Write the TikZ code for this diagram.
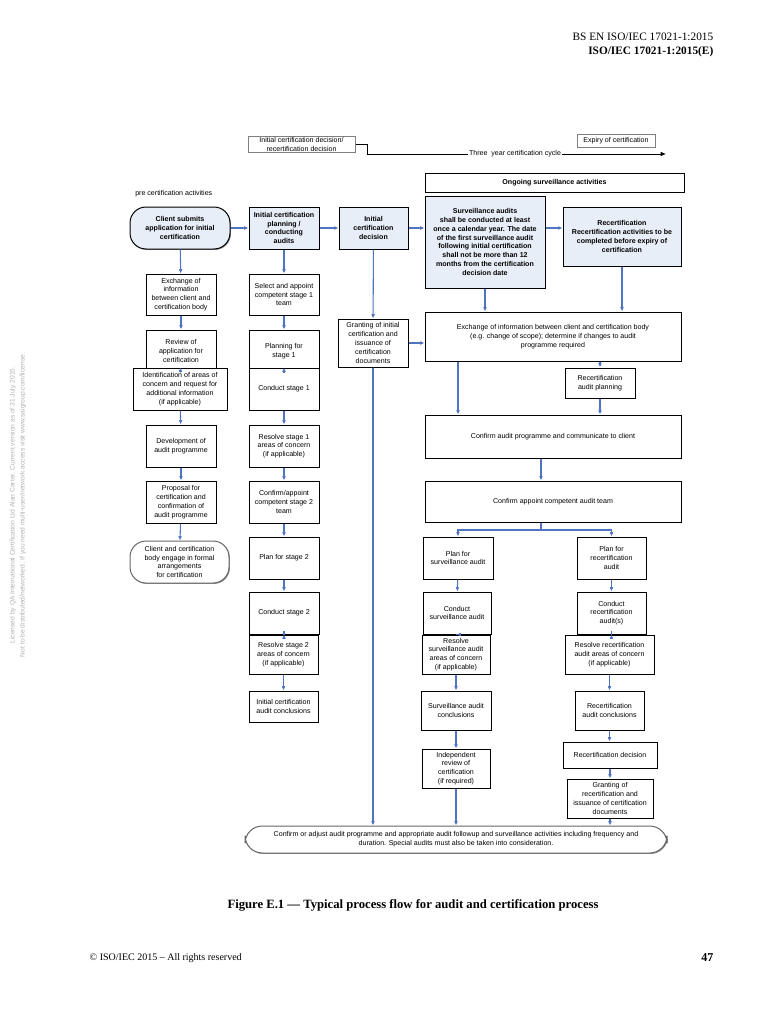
\documentclass[tikz,border=0pt]{standalone}
\usepackage{fontspec}
\setmainfont{Liberation Serif}
\newfontfamily\dsans{Liberation Sans}
\usetikzlibrary{arrows.meta,shadows}
\definecolor{ablue}{HTML}{4F74C0}
\definecolor{lblue}{HTML}{E8EEF8}
\newcommand\bx[7][]{\node[box,#1,minimum width={(#5-#3)*0.75pt},minimum height={(#6-#4)*0.75pt}] (#2) at ({(#3+#5)/2},{(#4+#6)/2}) {#7};}
\begin{document}
\begin{tikzpicture}[x=0.75pt,y=-0.75pt,
 box/.style={draw=black,line width=0.75pt,align=center,inner sep=0.5pt,fill=white,
   font=\dsans\fontsize{5.3}{6.6}\selectfont,
   drop shadow={shadow xshift=0.7pt,shadow yshift=-0.7pt,fill=black!45,opacity=1}},
 bl/.style={fill=lblue,font=\dsans\bfseries\fontsize{5.3}{6.6}\selectfont},
 arr/.style={draw=ablue,line width=0.8pt,-{Latex[length=3.2pt,width=2.8pt]}},
 ln/.style={draw=ablue,line width=0.8pt}]
\useasboundingbox (0,0) rectangle (768,1024);
\fill[white] (0,0) rectangle (768,1024);
% headers
\node[anchor=east,font=\fontsize{8.5}{10}\selectfont] (h1) at (718,37) {BS EN ISO/IEC 17021-1:2015};
\node[anchor=east,font=\bfseries\fontsize{8.5}{10}\selectfont] (h2) at (718,52) {ISO/IEC 17021-1:2015(E)};
\node[font=\bfseries\fontsize{9.5}{11}\selectfont] (cap) at (413,905) {Figure E.1 — Typical process flow for audit and certification process};
\node[anchor=west,font=\fontsize{7.5}{9}\selectfont] (f1) at (85,958) {© ISO/IEC 2015 – All rights reserved};
\node[anchor=east,font=\bfseries\fontsize{9}{10}\selectfont] (f2) at (718,958) {47};
% watermark
\node[rotate=90,align=center,text=black!30,font=\dsans\fontsize{5}{7.5}\selectfont] (wm) at (18,505)
 {Licensed by QA International Certification Ltd Alan Carter. Current version as of 31 July 2015.\\
  Not to be distributed/networked. If you need multi-user/network access visit www.saigroup.com/license.};
% top
\bx[draw=black!50,drop shadow={fill=black!15,shadow xshift=0.5pt,shadow yshift=-0.5pt}]{top}{248}{137}{355}{152}{Initial certification decision/\\recertification decision}
\bx[draw=black!50,drop shadow={fill=black!15,shadow xshift=0.5pt,shadow yshift=-0.5pt}]{exp}{577}{134}{655}{147}{Expiry of certification}
\coordinate (tc1) at (367,154);
\coordinate (tc2) at (666,154);
\draw[line width=0.7pt,-{Latex[length=4pt,width=3.5pt]}] (top.east) -| (tc1) -- (tc2);
\node[fill=white,inner sep=1pt,font=\dsans\fontsize{5.3}{6.6}\selectfont] (cyc) at (515,154) {Three\ \ year certification cycle};
\bx[bl,fill=white]{ong}{425}{173}{684}{192}{Ongoing surveillance activities}
\node[anchor=west,inner sep=0pt,font=\dsans\fontsize{5.3}{6.6}\selectfont] (pre) at (135,194) {pre certification activities};
% row 1
\bx[bl,rounded corners=12pt]{cli}{130}{207}{230}{249}{Client submits\\application for initial\\certification}
\bx[bl]{icp}{249}{207}{319}{249}{Initial certification\\planning /\\conducting\\audits}
\bx[bl]{icd}{339}{207}{408}{249}{Initial\\certification\\decision}
\bx[bl]{sur}{425}{196}{545}{288}{Surveillance audits\\shall be conducted at least\\once a calendar year. The date\\of the first surveillance audit\\following initial certification\\shall not be more than 12\\months from the certification\\decision date}
\bx[bl]{rec}{563}{207}{681}{266}{Recertification\\Recertification activities to be\\completed before expiry of\\certification}
% col 1
\bx{a1}{146}{274}{216}{315}{Exchange of\\information\\between client and\\certification body}
\bx{a2}{146}{330}{216}{372}{Review of\\application for\\certification}
\bx{a3}{133}{368}{227}{410}{Identification of areas of\\concern and request for\\additional information\\(if applicable)}
\bx{a4}{146}{425}{216}{467}{Development of\\audit programme}
\bx{a5}{146}{481}{216}{523}{Proposal for\\certification and\\confirmation of\\audit programme}
\bx[rounded corners=12pt,draw=black!60]{a6}{130}{541}{229}{583}{Client and certification\\body engage in formal\\arrangements\\for certification}
% col 2
\bx{b1}{249}{274}{319}{315}{Select and appoint\\competent stage 1\\team}
\bx{b2}{249}{330}{319}{372}{Planning for\\stage 1}
\bx{b3}{249}{368}{319}{410}{Conduct stage 1}
\bx{b4}{249}{425}{319}{467}{Resolve stage 1\\areas of concern\\(if applicable)}
\bx{b5}{249}{481}{319}{523}{Confirm/appoint\\competent stage 2\\team}
\bx{b6}{249}{537}{319}{579}{Plan for stage 2}
\bx{b7}{249}{592}{319}{634}{Conduct stage 2}
\bx{b8}{249}{635}{318}{674}{Resolve stage 2\\areas of concern\\(if applicable)}
\bx{b9}{249}{691}{318}{722}{Initial certification\\audit conclusions}
% col 3
\bx{gr}{338}{319}{408}{367}{Granting of initial\\certification and\\issuance of\\certification\\documents}
% right side
\bx{ex}{425}{312}{681}{361}{Exchange of information between client and certification body\\(e.g. change of scope); determine if changes to audit\\programme required}
\bx{rap}{565}{368}{635}{398}{Recertification\\audit planning}
\bx{cap2}{425}{415}{681}{458}{Confirm audit programme and communicate to client}
\bx{team}{425}{481}{681}{522}{Confirm appoint competent audit team}
\bx{s1}{423}{537}{493}{579}{Plan for\\surveillance audit}
\bx{s2}{423}{592}{491}{634}{Conduct\\surveillance audit}
\bx{s3}{422}{635}{490}{674}{Resolve\\surveillance audit\\areas of concern\\(if applicable)}
\bx{s4}{421}{691}{491}{730}{Surveillance audit\\conclusions}
\bx{s5}{422}{749}{490}{788}{Independent\\review of\\certification\\(if required)}
\bx{r1}{577}{537}{646}{579}{Plan for\\recertification\\audit}
\bx{r2}{577}{592}{646}{634}{Conduct\\recertification\\audit(s)}
\bx{r3}{565}{635}{654}{674}{Resolve recertification\\audit areas of concern\\(if applicable)}
\bx{r4}{575}{691}{644}{730}{Recertification\\audit conclusions}
\bx{r5}{563}{742}{657}{768}{Recertification decision}
\bx{r6}{567}{779}{653}{818}{Granting of\\recertification and\\issuance of certification\\documents}
\bx[rounded corners=13pt,draw=black!60]{fin}{245}{826}{667}{853}{Confirm or adjust audit programme and appropriate audit followup and surveillance activities including frequency and\\duration. Special audits must also be taken into consideration.}
% connectors row 1
\draw[arr] (cli.east) -- (icp.west);
\draw[arr] (icp.east) -- (icd.west);
\draw[arr] (icd.east) -- (icd.east -| sur.west);
\draw[arr] (sur.east |- icd.east) -- (rec.west |- icd.east);
% col 1 & 2
\draw[arr] (cli) -- (a1);
\draw[arr] (a1) -- (a2);
\draw[arr] (a2) -- (a3);
\draw[arr] (a3) -- (a4);
\draw[arr] (a4) -- (a5);
\draw[arr] (a5) -- (a6);
\draw[arr] (icp) -- (b1);
\draw[arr] (b1) -- (b2);
\draw[arr] (b2) -- (b3);
\draw[arr] (b3) -- (b4);
\draw[arr] (b4) -- (b5);
\draw[arr] (b5) -- (b6);
\draw[arr] (b6) -- (b7);
\draw[arr] (b7.south) -- (b7.south |- b8.north);
\draw[arr] (b8) -- (b9);
% col 3
\draw[arr] (icd) -- (gr);
\draw[arr] (gr.south) -- (gr.south |- fin.north);
\draw[arr] (gr.east) -- (gr.east -| ex.west);
% right
\draw[arr] (sur) -- (sur.south |- ex.north);
\draw[arr] (rec) -- (rec.south |- ex.north);
\draw[arr] (ex.south -| s1) -- (cap2.north -| s1);
\draw[arr] (ex.south -| rap) -- (rap.north);
\draw[arr] (rap.south) -- (rap.south |- cap2.north);
\coordinate (br) at (541,530);
\draw[arr] (cap2.south -| br) -- (team.north -| br);
\draw[ln] (team.south -| br) -- (br);
\draw[arr] (br) -| (s1.north);
\draw[arr] (br) -| (r1.north);
\draw[arr] (s1) -- (s2);
\draw[arr] (s2) -- (s3);
\draw[arr] (s3) -- (s4);
\draw[arr] (s4) -- (s5);
\draw[arr] (s5.south) -- (s5.south |- fin.north);
\draw[arr] (r1) -- (r2);
\draw[arr] (r2.south) -- (r2.south |- r3.north);
\draw[arr] (r3.south -| r4) -- (r4.north);
\draw[arr] (r4.south) -- (r4.south |- r5.north);
\draw[arr] (r5.south -| r6) -- (r6.north);
\draw[arr] (r6.south) -- (r6.south |- fin.north);
\end{tikzpicture}
\end{document}
